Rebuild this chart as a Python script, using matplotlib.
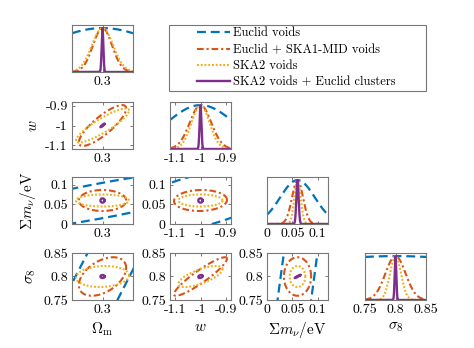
import numpy as np
import matplotlib
matplotlib.use('Agg')
import matplotlib.pyplot as plt
from matplotlib.lines import Line2D
from matplotlib.patches import Rectangle

plt.rcParams['font.family'] = 'serif'
plt.rcParams['font.serif'] = ['cmr10']
plt.rcParams['mathtext.fontset'] = 'cm'
plt.rcParams['axes.unicode_minus'] = False

# parameters: Omega_m, w, sum m_nu, sigma_8
fiducial = [0.3, -1.0, 0.06, 0.8]
plot_lo = [0.26, -1.12, 0.0, 0.75]
plot_hi = [0.34, -0.88, 0.12, 0.85]
ticks = [[0.3], [-1.1, -1.0, -0.9], [0.0, 0.05, 0.1], [0.75, 0.8, 0.85]]
tick_labels = [['0.3'], ['-1.1', '-1', '-0.9'], ['0', '0.05', '0.1'],
               ['0.75', '0.8', '0.85']]
axis_labels = [r'$\Omega_\mathrm{m}$', r'$w$', r'$\Sigma m_\nu/\mathrm{eV}$',
               r'$\sigma_8$']

survey_names = ['Euclid voids', 'Euclid + SKA1-MID voids', 'SKA2 voids',
                'SKA2 voids + Euclid clusters']

# marginal 1-sigma errors (Omega_m, w, m_nu, sigma_8)
sig_euclid = [0.08, 0.132, 0.034, 0.25]
sig_euclid_ska1 = [0.0125, 0.042, 0.0108, 0.0165]
sig_ska2 = [0.014, 0.035, 0.0062, 0.009]
sig_ska2_clusters = [0.0011, 0.0035, 0.0022, 0.0013]

# correlation coefficients for pairs (0,1) (0,2) (0,3) (1,2) (1,3) (2,3)
pairs = [(0, 1), (0, 2), (0, 3), (1, 2), (1, 3), (2, 3)]
rho_euclid = [0.82, 0.845, 0.984, 0.6, 0.5, 0.92]
rho_euclid_ska1 = [0.83, 0.0, 0.45, 0.05, 0.92, 0.0]
rho_ska2 = [0.88, 0.0, 0.1, 0.0, 0.7, 0.0]
rho_ska2_clusters = [0.9, 0.0, 0.0, 0.0, 0.3, 0.95]

sigmas = [sig_euclid, sig_euclid_ska1, sig_ska2, sig_ska2_clusters]
rhos = [rho_euclid, rho_euclid_ska1, rho_ska2, rho_ska2_clusters]

colors = ['#0072BD', '#D95319', '#EDB120', '#7E2F8E']
styles = [(0, (4, 2.2)), (0, (3.2, 1.4, 1.0, 1.4)), (0, (0.9, 0.9)), '-']
widths = [1.6, 1.5, 1.5, 1.7]

k95 = np.sqrt(6.17)  # 2-parameter 95.4% contour

fig = plt.figure(figsize=(4.74, 3.48), dpi=100)
W, H = 474.0, 348.0
col_x = [72, 170, 267, 365]
row_y = [25, 102, 177, 253]
aw, ah = 61, 47

t = np.linspace(0, 2 * np.pi, 400)
for i in range(4):
    for j in range(i + 1):
        ax = fig.add_axes([col_x[j] / W, 1 - (row_y[i] + ah) / H, aw / W, ah / H])
        if i == j:
            xs = np.linspace(plot_lo[j], plot_hi[j], 600)
            for s, c, ls, lw in zip(sigmas, colors, styles, widths):
                ax.plot(xs, np.exp(-0.5 * ((xs - fiducial[j]) / s[j]) ** 2),
                        color=c, ls=ls, lw=lw)
            ax.set_ylim(0, 1.07)
            ax.set_yticks([])
        else:
            p = pairs.index((j, i))
            for s, r, c, ls, lw in zip(sigmas, rhos, colors, styles, widths):
                cov = np.array([[s[j] ** 2, r[p] * s[j] * s[i]],
                                [r[p] * s[j] * s[i], s[i] ** 2]])
                L = np.linalg.cholesky(cov)
                pts = k95 * L @ np.vstack([np.cos(t), np.sin(t)])
                ax.plot(pts[0] + fiducial[j], pts[1] + fiducial[i],
                        color=c, ls=ls, lw=lw)
            ax.set_ylim(plot_lo[i], plot_hi[i])
            ax.set_yticks(ticks[i])
            ax.set_yticklabels(tick_labels[i])
            if j == 0:
                ax.set_ylabel(axis_labels[i], fontsize=11, labelpad=4)
        ax.set_xlim(plot_lo[j], plot_hi[j])
        ax.set_xticks(ticks[j])
        ax.set_xticklabels(tick_labels[j])
        if i == 3:
            ax.set_xlabel(axis_labels[j], fontsize=11, labelpad=3)
        ax.tick_params(direction='in', top=True, right=True, length=2.5,
                       width=0.5, labelsize=10, color='#444444', pad=3)
        for sp in ax.spines.values():
            sp.set_color('#777777')
            sp.set_linewidth(0.8)

# legend box drawn separately, entries indented like the MATLAB legend
fig.patches.append(Rectangle((169 / W, 1 - 91 / H), 257 / W, 66 / H,
                             transform=fig.transFigure, fill=False,
                             ec='#777777', lw=0.8))
handles = [Line2D([], [], color=c, ls=ls, lw=lw)
           for c, ls, lw in zip(colors, styles, widths)]
fig.legend(handles, survey_names, loc='center left',
           bbox_to_anchor=(197 / W, 1 - 58 / H), fontsize=9, frameon=False,
           handlelength=2.65, handletextpad=0.2, borderpad=0,
           labelspacing=0.34, borderaxespad=0)

fig.savefig('out.png', dpi=100)
